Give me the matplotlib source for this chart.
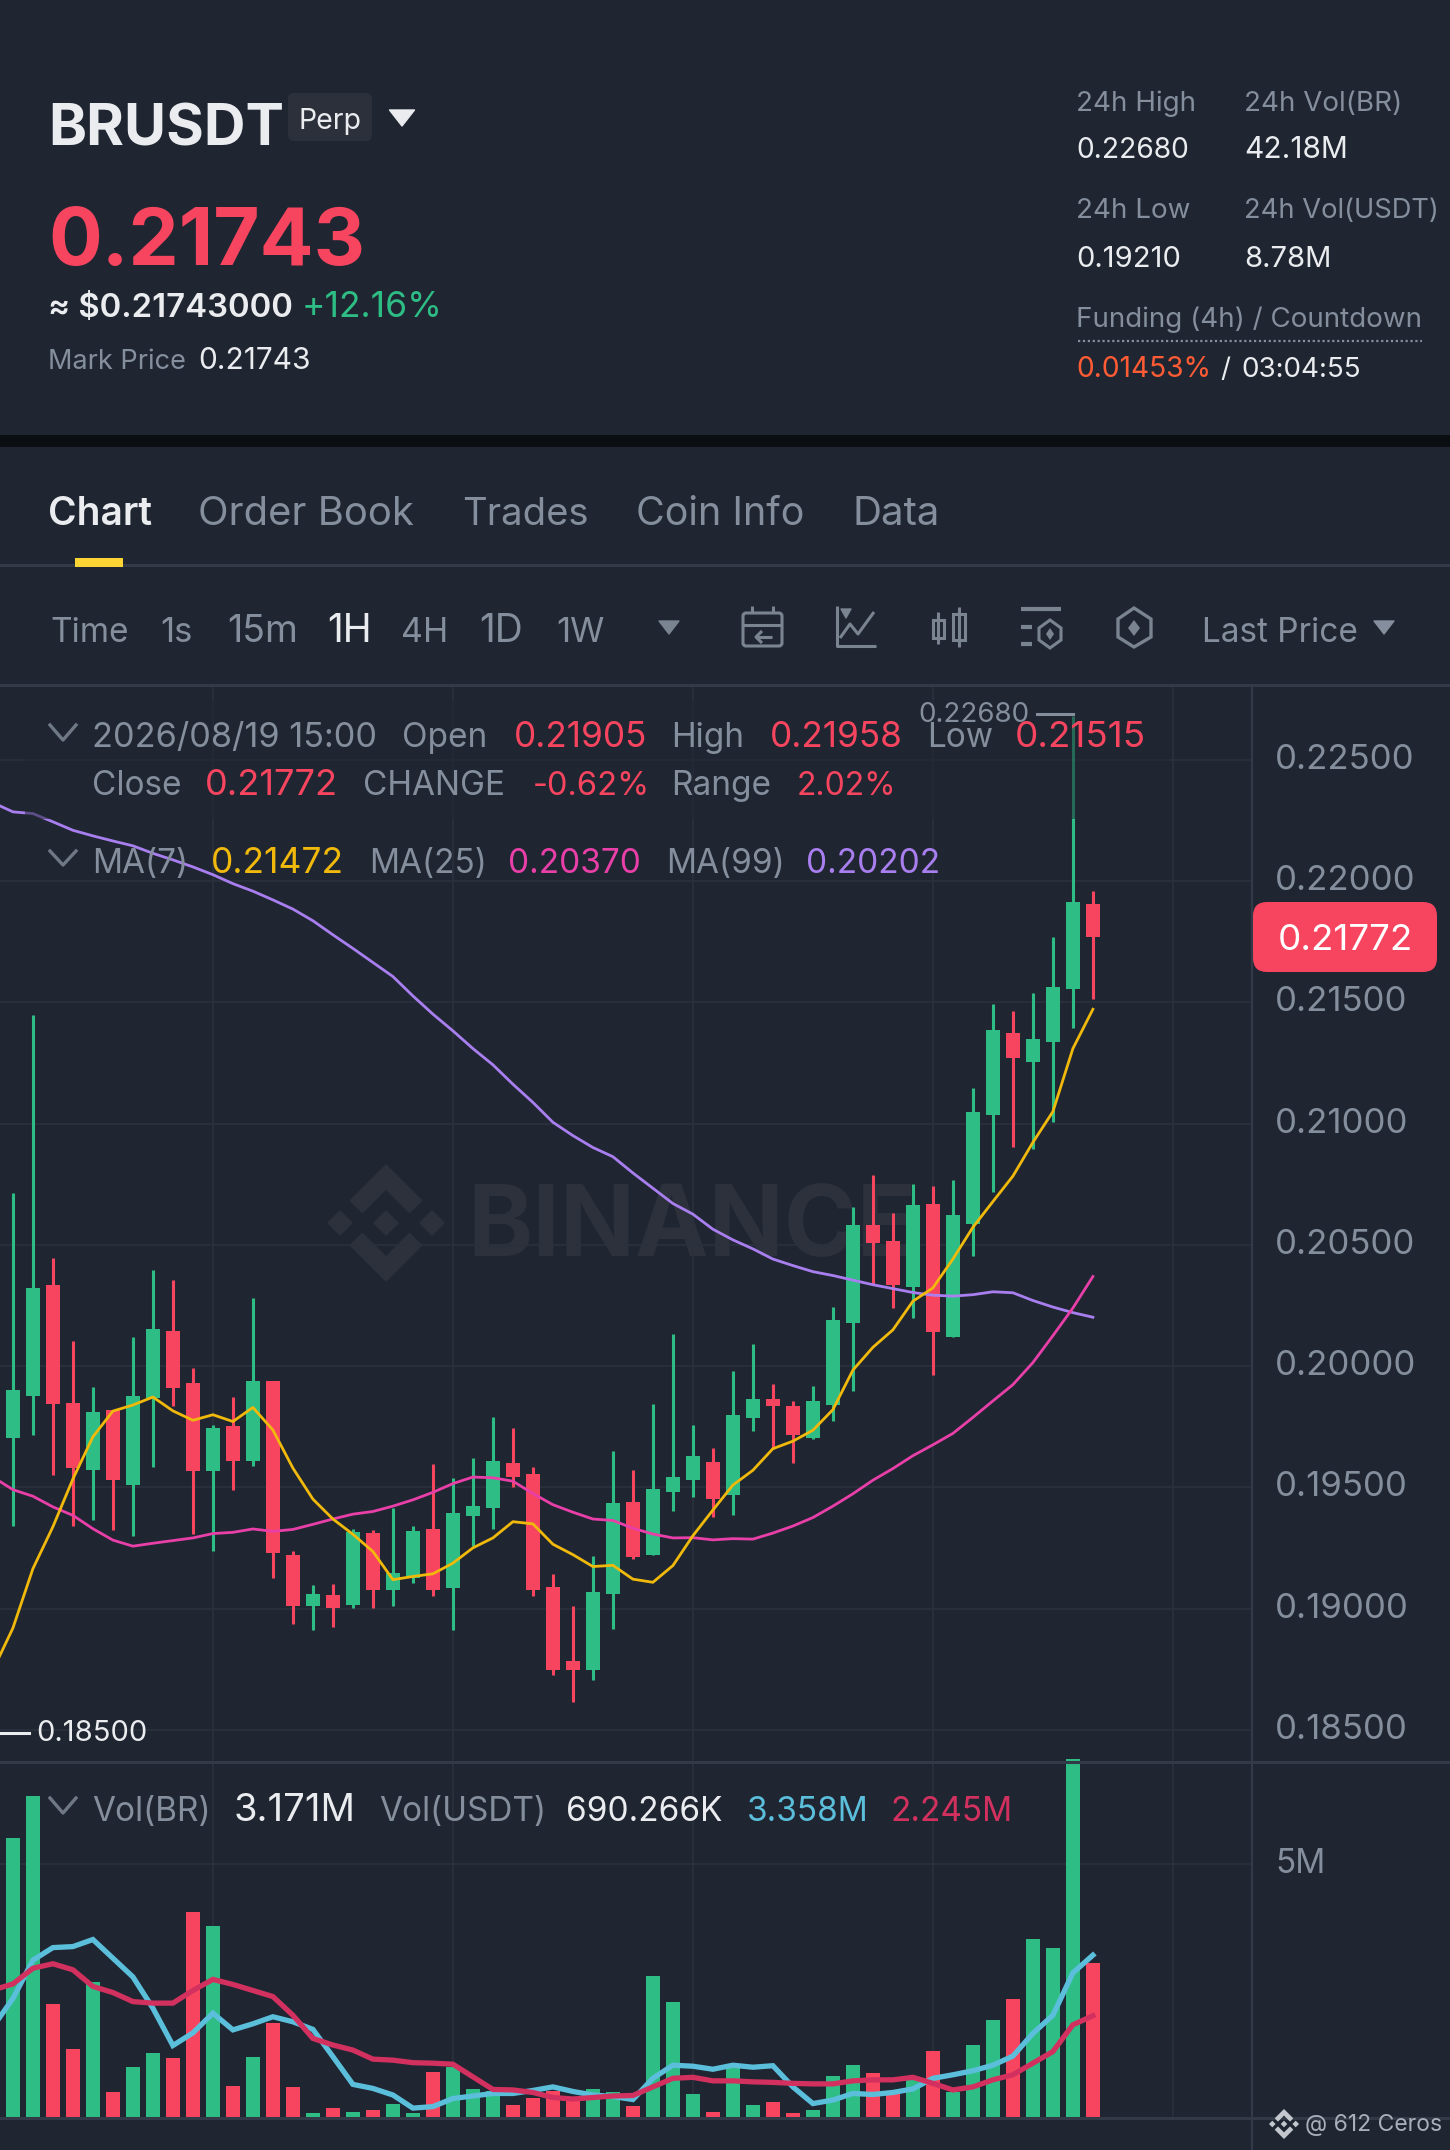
import matplotlib
matplotlib.use("Agg")
import matplotlib.pyplot as plt
from matplotlib.patches import Rectangle, FancyBboxPatch, Polygon

plt.rcParams['font.family'] = ['Inter', 'DejaVu Sans']

# ---------- candle data ----------
opens = [0.19704,0.19878,0.20335,0.19848,0.19573,0.19819,0.19512,0.19867,0.20146,0.19931,0.19567,0.19755,0.19610,0.19939,
         0.19223,0.19012,0.19057,0.19015,0.19313,0.19079,0.19128,0.19329,0.19087,0.19384,0.19415,0.19603,0.19556,0.19089,
         0.18786,0.18746,0.19062,0.19439,0.19221,0.19483,0.19530,0.19605,0.19467,0.19785,0.19865,0.19837,0.19704,0.19840,
         0.20180,0.20582,0.20518,0.20326,0.20668,0.20121,0.20587,0.21034,0.21374,0.21255,0.21337,0.21554,0.21905]
closes = [0.19901,0.20324,0.19845,0.19580,0.19810,0.19529,0.19876,0.20155,0.19912,0.19567,0.19747,0.19611,0.19941,0.19228,
          0.19012,0.19059,0.19002,0.19315,0.19079,0.19146,0.19322,0.19076,0.19393,0.19425,0.19611,0.19545,0.19078,0.18746,
          0.18746,0.19071,0.19437,0.19214,0.19494,0.19543,0.19628,0.19453,0.19799,0.19865,0.19838,0.19718,0.19857,0.20189,
          0.20584,0.20507,0.20336,0.20666,0.20142,0.20623,0.21050,0.21386,0.21273,0.21350,0.21562,0.21914,0.21772]
highs = [0.20715,0.21448,0.20446,0.20106,0.19914,0.19819,0.20122,0.20395,0.20354,0.19993,0.19756,0.19873,0.20280,0.19939,
         0.19239,0.19097,0.19102,0.19327,0.19324,0.19417,0.19340,0.19595,0.19540,0.19622,0.19791,0.19744,0.19584,0.19143,
         0.19012,0.19218,0.19649,0.19573,0.19846,0.20134,0.19758,0.19663,0.19979,0.20093,0.19928,0.19856,0.19920,0.20244,
         0.20655,0.20788,0.20631,0.20753,0.20745,0.20766,0.21148,0.21492,0.21463,0.21537,0.21768,0.22680,0.21958]
lows = [0.19343,0.19717,0.19551,0.19341,0.19365,0.19326,0.19299,0.19583,0.19838,0.19307,0.19240,0.19491,0.19587,0.19128,
        0.18939,0.18912,0.18923,0.19002,0.19002,0.19012,0.19108,0.19053,0.18912,0.19259,0.19330,0.19501,0.19051,0.18725,
        0.18614,0.18705,0.18916,0.19205,0.19221,0.19401,0.19462,0.19379,0.19388,0.19734,0.19660,0.19601,0.19698,0.19775,
        0.19898,0.20339,0.20241,0.20197,0.19965,0.20121,0.20453,0.20718,0.20903,0.20895,0.21009,0.21393,0.21515]

# moving averages: first entry belongs to the candle just off the left edge
ma7 = [0.18747,0.18920,0.19165,0.19338,0.19535,0.19709,0.19815,0.19840,0.19873,0.19816,0.19777,0.19800,0.19772,0.19830,0.19737,
       0.19580,0.19452,0.19370,0.19307,0.19236,0.19120,0.19133,0.19144,0.19188,0.19251,0.19292,0.19359,0.19350,0.19266,0.19223,
       0.19174,0.19179,0.19122,0.19109,0.19178,0.19301,0.19407,0.19510,0.19571,0.19660,0.19691,0.19736,0.19821,0.19984,0.20078,
       0.20150,0.20268,0.20323,0.20442,0.20573,0.20679,0.20784,0.20923,0.21050,0.21310,0.21472]
ma25 = [0.19543,0.19491,0.19464,0.19420,0.19385,0.19330,0.19283,0.19258,0.19270,0.19281,0.19292,0.19310,0.19315,0.19329,0.19319,
        0.19327,0.19348,0.19370,0.19390,0.19401,0.19423,0.19449,0.19480,0.19516,0.19543,0.19540,0.19526,0.19475,0.19429,0.19398,
        0.19370,0.19364,0.19332,0.19308,0.19292,0.19293,0.19284,0.19289,0.19287,0.19312,0.19341,0.19376,0.19423,0.19474,0.19530,
        0.19578,0.19631,0.19676,0.19723,0.19789,0.19857,0.19924,0.20015,0.20126,0.20240,0.20370]
ma99 = [0.22324,0.22286,0.22279,0.22245,0.22210,0.22187,0.22166,0.22146,0.22115,0.22088,0.22059,0.22027,0.21990,0.21959,0.21923,
        0.21885,0.21837,0.21779,0.21723,0.21665,0.21607,0.21527,0.21452,0.21383,0.21310,0.21243,0.21163,0.21088,0.21006,0.20951,
        0.20902,0.20864,0.20797,0.20734,0.20671,0.20627,0.20565,0.20521,0.20484,0.20442,0.20415,0.20390,0.20374,0.20355,0.20336,
        0.20320,0.20304,0.20293,0.20289,0.20295,0.20307,0.20303,0.20271,0.20244,0.20221,0.20202]

# volume, in millions
volumes = [5.52,6.35,2.23,1.35,2.66,0.49,0.99,1.27,1.16,4.06,3.78,0.60,1.18,1.86,0.58,0.08,0.18,0.10,0.14,0.26,0.08,0.89,0.99,0.55,
           0.50,0.24,0.37,0.50,0.33,0.54,0.48,0.21,2.79,2.27,0.44,0.10,0.99,0.24,0.30,0.07,0.13,0.81,1.02,0.87,0.46,0.73,1.31,0.48,
           1.42,1.92,2.33,3.53,3.34,7.09,3.04]
vol_ma5 = [1.78,2.34,3.10,3.35,3.37,3.51,3.14,2.77,2.15,1.41,1.66,2.05,1.72,1.84,1.98,1.88,1.73,1.19,0.64,0.56,0.43,0.17,0.20,0.36,
           0.41,0.46,0.46,0.52,0.59,0.50,0.43,0.40,0.34,0.76,1.02,1.00,0.94,1.02,0.98,1.01,0.59,0.26,0.33,0.46,0.44,0.48,0.55,0.76,
           0.83,0.91,1.02,1.20,1.65,2.01,2.85,3.20]
vol_ma10 = [2.51,2.63,2.94,3.03,2.91,2.58,2.46,2.28,2.25,2.25,2.50,2.72,2.62,2.50,2.38,2.01,1.55,1.42,1.32,1.14,1.12,1.07,1.06,1.04,
            0.79,0.54,0.53,0.48,0.38,0.35,0.38,0.41,0.42,0.59,0.76,0.78,0.71,0.71,0.69,0.68,0.66,0.65,0.65,0.71,0.73,0.73,0.78,0.66,
            0.53,0.59,0.73,0.83,1.06,1.29,1.82,2.00]

price_ticks = [0.185,0.19,0.195,0.20,0.205,0.21,0.215,0.22,0.225]
price_labels = ['0.18500','0.19000','0.19500','0.20000','0.20500','0.21000','0.21500','0.22000','0.22500']
time_grid = [10,22,34,46,58]
vol_ticks = [5.0]
vol_labels = ['5M']
last_close = 0.21772
period_high = 0.22680
period_low = 0.18500

BG = '#1f2631'; GRID = '#2a313c'; SEP = '#333a47'
GREEN = '#2ebd85'; RED = '#f7455f'; GREY = '#848e9c'; WHITE = '#eaecef'
GOLD = '#f0b90b'; MAG = '#e83fa8'; PURP = '#a97ff0'; BLUE = '#5bbfdc'; PINK = '#d2315f'

W, H = 1450, 2150
fig = plt.figure(figsize=(14.5, 21.5), dpi=100, facecolor=BG)

def px_axes(left, top, right, bottom, z):
    a = fig.add_axes([left/W, 1-bottom/H, (right-left)/W, (bottom-top)/H], zorder=z)
    a.set_facecolor('none')
    for s in a.spines.values():
        s.set_visible(False)
    a.set_xticks([]); a.set_yticks([])
    return a

bg = px_axes(0, 0, W, H, 0); bg.set_xlim(0, W); bg.set_ylim(H, 0)
px = px_axes(0, 686, 1252, 1762, 1)
pv = px_axes(0, 1762, 1252, 2118, 1)
fg = px_axes(0, 0, W, H, 2); fg.set_xlim(0, W); fg.set_ylim(H, 0)

XLIM = (-0.645, 61.955)
x = list(range(len(opens)))
xm = list(range(-1, len(opens)))

# ---------- watermark ----------
def logo(ax, cx, cy, r, color, z=1):
    shapes = [
        [(0,-.22),(.22,0),(0,.22),(-.22,0)],
        [(-.78,-.22),(-.56,0),(-.78,.22),(-1,0)],
        [(.78,-.22),(1,0),(.78,.22),(.56,0)],
        [(0,-1),(.62,-.38),(.40,-.16),(0,-.56),(-.40,-.16),(-.62,-.38)],
        [(0,1),(.62,.38),(.40,.16),(0,.56),(-.40,.16),(-.62,.38)],
    ]
    for s in shapes:
        ax.add_patch(Polygon([(cx+u*r, cy+v*r) for u, v in s], closed=True, fc=color, ec='none', zorder=z))

logo(bg, 386, 1223, 59, '#2c313c')
bg.text(468, 1256, 'BINANCE', fontsize=71, weight='bold', color='#2c313c', va='baseline', ha='left')

# ---------- price pane ----------
px.set_xlim(*XLIM); px.set_ylim(0.18368, 0.22805)
for t in price_ticks:
    px.axhline(t, color=GRID, lw=1.3, zorder=1)
for t in time_grid:
    px.axvline(t, color=GRID, lw=1.3, zorder=1)
cols = [GREEN if c >= o else RED for o, c in zip(opens, closes)]
px.vlines(x, lows, highs, colors=cols, lw=2.2, zorder=2)
px.bar(x, [abs(c-o) for o, c in zip(opens, closes)], bottom=[min(o, c) for o, c in zip(opens, closes)],
       width=0.7, color=cols, zorder=3)
px.plot(xm, ma99, color=PURP, lw=2.0, zorder=4, solid_joinstyle='round')
px.plot(xm, ma25, color=MAG, lw=2.0, zorder=4, solid_joinstyle='round')
px.plot(xm, ma7, color=GOLD, lw=2.0, zorder=5, solid_joinstyle='round')

# ---------- volume pane ----------
pv.set_xlim(*XLIM); pv.set_ylim(-0.026, 7.027)
for t in vol_ticks:
    pv.axhline(t, color=GRID, lw=1.3, zorder=1)
for t in time_grid:
    pv.axvline(t, color=GRID, lw=1.3, zorder=1)
pv.bar(x, volumes, width=0.7, color=cols, zorder=3, clip_on=False)
pv.plot(xm, vol_ma5, color=BLUE, lw=3.8, zorder=4, solid_joinstyle='miter')
pv.plot(xm, vol_ma10, color=PINK, lw=3.8, zorder=5, solid_joinstyle='miter')

# ---------- chrome ----------
fg.add_patch(Rectangle((25, 700), 1145, 119, fc=BG, ec='none', alpha=0.55, zorder=1))
fg.add_patch(Rectangle((0, 435), W, 12, fc='#0b0e11', ec='none'))
fg.plot([0, W], [565, 565], color=SEP, lw=2.2, zorder=2)
fg.plot([0, W], [685, 685], color=SEP, lw=2.2, zorder=2)
fg.plot([0, W], [1762, 1762], color=SEP, lw=2.2, zorder=2)
fg.plot([0, W], [2118, 2118], color=SEP, lw=2.2, zorder=2)
fg.plot([1252, 1252], [686, H], color=SEP, lw=1.6, zorder=2)
fg.add_patch(Rectangle((75, 558), 48, 9, fc='#fcd535', ec='none', zorder=3))

def T(x0, y0, s, size, color=GREY, weight='normal', ha='left', va='baseline', z=6):
    dx = -2 if ha == 'left' else 0
    return fg.text(x0+dx, y0, s, fontsize=size, color=color, weight=weight, ha=ha, va=va, zorder=z)

def tri(cx, top, w, h, color):
    fg.add_patch(Polygon([(cx-w/2, top), (cx+w/2, top), (cx, top+h)], closed=True, fc=color, ec=color, lw=1,
                         joinstyle='round', zorder=6))

def chevron(x0, y0, x1, y1):
    fg.plot([x0, (x0+x1)/2, x1], [y0, y1, y0], color='#6f7885', lw=2.4, zorder=6)

# header
T(50, 145, 'BRUSDT', 41.5, WHITE, 'bold')
fg.add_patch(FancyBboxPatch((292, 97), 76, 40, boxstyle='round,pad=4,rounding_size=6', fc='#2b303b', ec='none', zorder=3))
T(301, 129, 'Perp', 20.5, WHITE)
tri(402, 110, 25, 16, WHITE)
T(50, 265, '0.21743', 57.5, RED, 'bold')
T(50, 317, '≈ $0.21743000', 23.7, WHITE, 'semibold')
T(304, 317, '+12.16%', 25.5, GREEN)
T(50, 369, 'Mark Price', 19.5, GREY)
T(200, 369, '0.21743', 21.5, WHITE)

T(1078, 111, '24h High', 20, GREY); T(1246, 111, '24h Vol(BR)', 20, GREY)
T(1078, 158, '0.22680', 20.3, WHITE); T(1246, 158, '42.18M', 21.5, WHITE)
T(1078, 218, '24h Low', 20, GREY); T(1246, 218, '24h Vol(USDT)', 19.7, GREY)
T(1078, 267, '0.19210', 21, WHITE); T(1246, 267, '8.78M', 21, WHITE)
T(1078, 327, 'Funding (4h) / Countdown', 20, GREY)
fg.plot([1078, 1422], [341, 341], color=GREY, lw=1.6, ls=(0, (1, 1.2)), zorder=6)
T(1078, 377, '0.01453%', 20.2, '#ff5c35'); T(1225, 377, '/', 20, WHITE, ha='center'); T(1243, 377, '03:04:55', 20, WHITE)

# tabs
T(50, 525, 'Chart', 28, WHITE, 'semibold')
for xp, s, sz in [(200, 'Order Book', 28.8), (464, 'Trades', 27.5), (638, 'Coin Info', 28.4), (855, 'Data', 29)]:
    T(xp, 525, s, sz, GREY)

# toolbar
for xp, s, c, sz in [(52, 'Time', GREY, 24), (162, '1s', GREY, 25), (229, '15m', GREY, 27), (329, '1H', WHITE, 28),
                     (403, '4H', GREY, 24.5), (481, '1D', GREY, 28), (558, '1W', GREY, 25), (1204, 'Last Price', GREY, 24)]:
    T(xp, 642, s, sz, c)
tri(669, 621, 20, 13, '#7a8390')
tri(1384, 621, 20, 13, GREY)

IC = '#7a8390'
def L(xs, ys, lw=2.2):
    fg.plot(xs, ys, color=IC, lw=lw, zorder=6, solid_capstyle='butt')
# calendar
fg.add_patch(FancyBboxPatch((743, 613), 39, 33, boxstyle='round,pad=0,rounding_size=3', fc='none', ec=IC, lw=2.2, zorder=6))
L([743, 782], [625, 625]); L([752, 752], [606, 613]); L([773, 773], [606, 613])
L([756, 772], [637, 637]); L([762, 756, 762], [631, 637, 643])
# chart icon
L([837, 837, 876], [606, 646, 646]); L([840, 850, 858, 874], [638, 624, 634, 612]); tri(846, 609, 10, 9, IC)
# candle icon
fg.add_patch(Rectangle((933, 620), 11, 18, fc='none', ec=IC, lw=2.2, zorder=6)); L([938.5, 938.5], [612, 644])
fg.add_patch(Rectangle((953, 614), 12, 26, fc='none', ec=IC, lw=2.2, zorder=6)); L([959, 959], [607, 647])
# indicator icon
L([1021, 1061], [609, 609], 3); L([1021, 1032], [627, 627], 3); L([1021, 1032], [644, 644], 3)
fg.add_patch(Polygon([(1050, 620), (1061, 628), (1061, 640), (1050, 648), (1039, 640), (1039, 628)], closed=True, fc='none', ec=IC, lw=2.2, zorder=6))
fg.add_patch(Polygon([(1050, 628), (1054, 634), (1050, 640), (1046, 634)], closed=True, fc=IC, ec='none', zorder=6))
# hexagon icon
fg.add_patch(Polygon([(1134, 608), (1151, 619), (1151, 637), (1134, 647), (1118, 637), (1118, 619)], closed=True, fc='none', ec=IC, lw=2.4, zorder=6))
fg.add_patch(Polygon([(1134, 620), (1140, 628), (1134, 636), (1128, 628)], closed=True, fc=IC, ec='none', zorder=6))

# legends
chevron(50, 725, 76, 740)
T(94, 747, '2026/08/19 15:00', 24.7); T(404, 747, 'Open', 24); T(516, 747, '0.21905', 25.3, RED)
T(673, 747, 'High', 24); T(772, 747, '0.21958', 25.3, RED); T(929, 747, 'Low', 24); T(1017, 747, '0.21515', 26.5, RED)
T(94, 795, 'Close', 24); T(207, 795, '0.21772', 26, RED); T(365, 795, 'CHANGE', 24); T(535, 795, '-0.62%', 23.5, RED)
T(673, 795, 'Range', 24); T(799, 795, '2.02%', 23, RED)
chevron(50, 851, 76, 865)
T(94, 873, 'MA(7)', 24); T(213, 873, '0.21472', 25.5, GOLD); T(371, 873, 'MA(25)', 24); T(510, 873, '0.20370', 24, MAG)
T(668, 873, 'MA(99)', 24); T(808, 873, '0.20202', 24, PURP)
chevron(50, 1798, 76, 1813)
T(94, 1821, 'Vol(BR)', 24); T(236, 1821, '3.171M', 27.5, WHITE); T(381, 1821, 'Vol(USDT)', 24); T(568, 1821, '690.266K', 24, WHITE)
T(749, 1821, '3.358M', 24, BLUE); T(893, 1821, '2.245M', 24, PINK)

# high / low markers
T(920, 722, f'{period_high:.5f}', 20, GREY)
fg.plot([1037, 1073], [714, 714], color=GREY, lw=2.2, zorder=6)
fg.plot([0, 29], [1733, 1733], color=WHITE, lw=2.2, zorder=6)
T(38, 1741, f'{period_low:.5f}', 21, WHITE)

# price axis labels, placed through the pane's own scale
for t, s in zip(price_ticks, price_labels):
    px.annotate(s, xy=(1.0, t), xycoords=px.get_yaxis_transform(), xytext=(23*0.72, 0), textcoords='offset points',
                fontsize=25, color=GREY, va='center', ha='left', annotation_clip=False, zorder=10)
for t, s in zip(vol_ticks, vol_labels):
    pv.annotate(s, xy=(1.0, t), xycoords=pv.get_yaxis_transform(), xytext=(23*0.72, 0), textcoords='offset points',
                fontsize=24, color=GREY, va='center', ha='left', annotation_clip=False, zorder=10)

# last price badge
fg.add_patch(FancyBboxPatch((1263, 912), 164, 50, boxstyle='round,pad=10,rounding_size=14', fc=RED, ec='none', zorder=5))
T(1345, 937, f'{last_close:.5f}', 26.5, '#ffffff', ha='center', va='center_baseline')

# corner watermark
logo(fg, 1284, 2124, 15, '#c4c8ce', z=6)
T(1307, 2131, '@ 612 Ceros', 16.5, '#a9b0ba')

fig.savefig('out.png', dpi=100, facecolor=BG)
